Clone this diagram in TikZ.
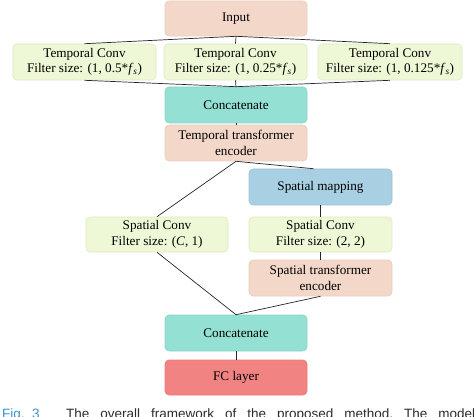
\documentclass[tikz,border=0pt]{standalone}
\usepackage{fontspec}
\setmainfont{Liberation Serif}
\newfontfamily\capfont{Liberation Sans}
\usetikzlibrary{calc}
\definecolor{peach}{HTML}{F3D7C9}
\definecolor{peachb}{HTML}{EACCBD}
\definecolor{lgreen}{HTML}{EEF8D6}
\definecolor{lgreenb}{HTML}{DAEBC2}
\definecolor{teal}{HTML}{94E0D3}
\definecolor{tealb}{HTML}{88D6C8}
\definecolor{lblue}{HTML}{A8CFE2}
\definecolor{lblueb}{HTML}{9CC5D9}
\definecolor{salmon}{HTML}{F28383}
\definecolor{salmonb}{HTML}{EA7A7A}
\definecolor{capblue}{HTML}{3A93CF}
\definecolor{capgray}{HTML}{2B2B2B}
\tikzset{
  box/.style={rounded corners=4pt, line width=0.6pt, align=center, inner sep=0pt,
    font=\fontsize{13.2}{15.5}\selectfont, text=black},
  peachbox/.style={box, fill=peach, draw=peachb},
  greenbox/.style={box, fill=lgreen, draw=lgreenb},
  tealbox/.style={box, fill=teal, draw=tealb},
  bluebox/.style={box, fill=lblue, draw=lblueb},
  redbox/.style={box, fill=salmon, draw=salmonb},
  conn/.style={draw=black!85, line width=0.7pt},
  captext/.style={anchor=base west, inner sep=0pt, font=\capfont\fontsize{13.5}{15}\selectfont\frenchspacing},
}
\newcommand{\fsub}{\textit{f}\textsubscript{\textit{s}}}
\begin{document}
\begin{tikzpicture}[x=1pt,y=-1pt]
\useasboundingbox (0,0) rectangle (474,417);
\clip (0,0) rectangle (474,417);
% nodes
\node[peachbox, minimum width=142pt, minimum height=35pt] (inp) at (236,18.5) {Input};
\node[greenbox, minimum width=143pt, minimum height=36pt] (tl) at (84.5,62) {Temporal Conv\\Filter size: (1, 0.5*\fsub)};
\node[greenbox, minimum width=143pt, minimum height=36pt] (tm) at (235.5,62) {Temporal Conv\\Filter size: (1, 0.25*\fsub)};
\node[greenbox, minimum width=144pt, minimum height=36pt] (tr) at (390,62) {Temporal Conv\\Filter size: (1, 0.125*\fsub)};
\node[tealbox, minimum width=142pt, minimum height=36pt] (cat1) at (236,105) {Concatenate};
\node[peachbox, minimum width=142pt, minimum height=36pt] (tte) at (236,143) {Temporal transformer\\encoder};
\node[bluebox, minimum width=143pt, minimum height=36pt] (sm) at (320.5,187) {Spatial mapping};
\node[greenbox, minimum width=142pt, minimum height=35pt] (scl) at (157,234.5) {Spatial Conv\\Filter size: (\textit{C}, 1)};
\node[greenbox, minimum width=143pt, minimum height=35pt] (scr) at (320.5,234.5) {Spatial Conv\\Filter size: (2, 2)};
\node[peachbox, minimum width=143pt, minimum height=36pt] (ste) at (320.5,278) {Spatial transformer\\encoder};
\node[tealbox, minimum width=142pt, minimum height=36pt] (cat2) at (236,333) {Concatenate};
\node[redbox, minimum width=142pt, minimum height=35pt] (fc) at (236,377.5) {FC layer};
% connectors
\draw[conn] (inp.south) -- (tl.north);
\draw[conn] (inp.south) -- (tm.north);
\draw[conn] (inp.south) -- (tr.north);
\draw[conn] (tl.south) -- (cat1.north);
\draw[conn] (tm.south) -- (cat1.north);
\draw[conn] (tr.south) -- (cat1.north);
\draw[conn] (cat1.south) -- (tte.north);
\draw[conn] (tte.south) -- (scl.north);
\draw[conn] (tte.south) -- ($(sm.north)+(-7,0)$);
\draw[conn] (sm.south) -- (scr.north);
\draw[conn] (scr.south) -- (ste.north);
\draw[conn] (scl.south) -- (cat2.north);
\draw[conn] (ste.south) -- (cat2.north);
\draw[conn] (cat2.south) -- (fc.north);
% caption (cut off by the page edge, as in the reference)
\node[captext, text=capblue] (figlbl) at (2,418.5) {Fig.~~3};
\node[captext, text=capgray] (captxt) at (66,418.5) {\makebox[409pt][s]{The overall framework of the proposed method. The model}};
\end{tikzpicture}
\end{document}
